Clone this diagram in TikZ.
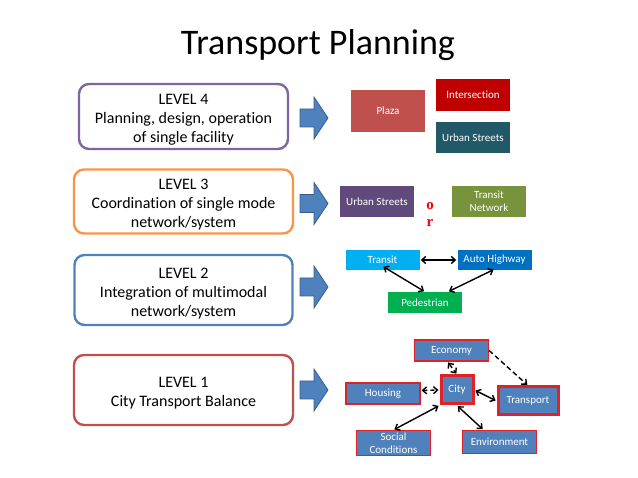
\documentclass[tikz,border=0pt]{standalone}
\usepackage{fontspec}
\setmainfont{Carlito}[Ligatures=NoCommon]
\newfontfamily\orfont{Liberation Serif}
\usepackage{tikz}
\usetikzlibrary{arrows.meta, positioning, calc}
\definecolor{lvpurple}   {RGB}{128, 100, 162}
\definecolor{lvorange}   {RGB}{247, 150,  70}
\definecolor{lvblue}     {RGB}{ 79, 129, 189}
\definecolor{lvred}      {RGB}{192,  80,  77}
\definecolor{arrowedge}  {RGB}{ 56,  93, 138}
\definecolor{plazared}   {RGB}{192,  80,  77}
\definecolor{isecred}    {RGB}{192,   0,   0}
\definecolor{streetteal} {RGB}{ 33,  89, 104}
\definecolor{streetpurp} {RGB}{ 96,  74, 123}
\definecolor{transgreen} {RGB}{119, 147,  60}
\definecolor{transitcyan}{RGB}{  0, 176, 240}
\definecolor{autoblue}   {RGB}{  0, 112, 192}
\definecolor{pedgreen}   {RGB}{  0, 176,  80}
\definecolor{cityborder} {RGB}{226,  32,  40}

\tikzset{
	levelbox/.style={draw, rounded corners=10pt, line width=2.4pt, fill=white, inner sep=0pt},
	leveltext/.style={align=center, font=\fontsize{16}{19}\selectfont, inner sep=0pt, yshift=-3.5pt},
	facbox/.style={text=white, align=center, font=\fontsize{11}{13.5}\selectfont, inner sep=0pt,
		minimum width=74pt},
	citybox/.style={facbox, fill=lvblue, draw=cityborder, line width=1.2pt},
	keybox/.style={line width=3pt},
	orletter/.style={text=red, font=\orfont\bfseries\fontsize{15}{15}\selectfont, inner sep=0pt},
	blockarrow/.style={fill=lvblue, draw=arrowedge, line width=0.8pt},
	link/.style={line width=1.4pt, {Straight Barb[length=4pt,width=7pt]}-{Straight Barb[length=4pt,width=7pt]},
		shorten >=1pt, shorten <=1pt},
	oneway/.style={line width=1.4pt, -{Straight Barb[length=4pt,width=7pt]}, shorten >=1pt, dashed,
		dash pattern=on 5pt off 3pt}
}

\begin{document}
\begin{tikzpicture}[x=1pt, y=-1pt]
	\useasboundingbox (0,0) rectangle (638,478);
	\node (title) at (318,45) {\fontsize{36}{40}\selectfont Transport Planning};

	% levels
	\node[levelbox, draw=lvpurple, minimum width=209pt, minimum height=65pt] (lv4) at (183.5,116.5) {};
	\node[leveltext] (lv4t) at (lv4) {LEVEL 4\\Planning, design, operation\\of single facility};
	\node[levelbox, draw=lvorange, minimum width=219pt, minimum height=64pt] (lv3) at (183.5,201.5) {};
	\node[leveltext] (lv3t) at (lv3) {LEVEL 3\\Coordination of single mode\\network/system};
	\node[levelbox, draw=lvblue, minimum width=218pt, minimum height=70pt] (lv2) at (183.5,290) {};
	\node[leveltext] (lv2t) at (lv2) {LEVEL 2\\Integration of multimodal\\network/system};
	\node[levelbox, draw=lvred, minimum width=219pt, minimum height=70pt] (lv1) at (183.5,390) {};
	\node[leveltext] (lv1t) at (lv1) {LEVEL 1\\City Transport Balance};

	\foreach \y in {118,203.5,287,390}
		\draw[blockarrow] (300,\y-9) -- (314,\y-9) -- (314,\y-21) -- (328,\y) -- (314,\y+21)
			-- (314,\y+9) -- (300,\y+9) -- cycle;

	% level 4
	\node[facbox, fill=plazared, minimum height=42pt] (plaza) at (388,111) {Plaza};
	\node[facbox, fill=isecred, minimum height=32pt] (isec) at (473,95) {Intersection};
	\node[facbox, fill=streetteal, minimum height=31pt] (street) at (473,137.5) {Urban Streets};

	% level 3
	\node[facbox, fill=streetpurp, minimum height=31pt] (ustreet) at (377,201.5) {Urban Streets};
	\node[facbox, fill=transgreen, minimum height=31pt] (tnet) at (489,201.5) {Transit\\Network};
	\node[orletter] (orO) at (430,206) {o};
	\node[orletter] (orR) at (430,223) {r};

	% level 2
	\node[facbox, fill=transitcyan, minimum height=20pt] (transit) at (382.5,260) {Transit};
	\node[facbox, fill=autoblue, minimum height=20pt] (auto) at (494.5,260) {Auto Highway};
	\node[facbox, fill=pedgreen, minimum height=21pt] (ped) at (425,302.5) {Pedestrian};
	\draw[link] (transit.east) -- (auto.west);
	\draw[link] ([yshift=4pt]transit.south) -- (ped.north);
	\draw[link] ([yshift=1pt]auto.south) -- ([xshift=23pt]ped.north);

	% level 1
	\node[citybox, minimum height=21pt] (economy) at (451.5,350.5) {Economy};
	\node[citybox, minimum height=21pt] (housing) at (383,393.5) {Housing};
	\node[citybox, keybox, minimum width=32pt, minimum height=28pt] (city) at (457,390) {City};
	\node[citybox, keybox, minimum width=60pt, minimum height=28pt] (transport) at (528,401) {Transport};
	\node[citybox, minimum height=25pt] (social) at (393.5,443) {Social\\Conditions};
	\node[citybox, minimum height=23pt] (env) at (499.5,442) {Environment};
	\draw[link, dashed, dash pattern=on 5pt off 3pt] ([xshift=-4pt]economy.south) -- (city.north);
	\draw[oneway] (economy.east) -- (transport.north);
	\draw[link, dashed, dash pattern=on 4pt off 3pt] ([yshift=3pt]housing.east) -- (city.west);
	\draw[link] (city.east) -- (transport.west);
	\draw[link] (city.south west) -- (social.north);
	\draw[link] (city.south) -- ([xshift=-16pt]env.north);
\end{tikzpicture}
\end{document}
